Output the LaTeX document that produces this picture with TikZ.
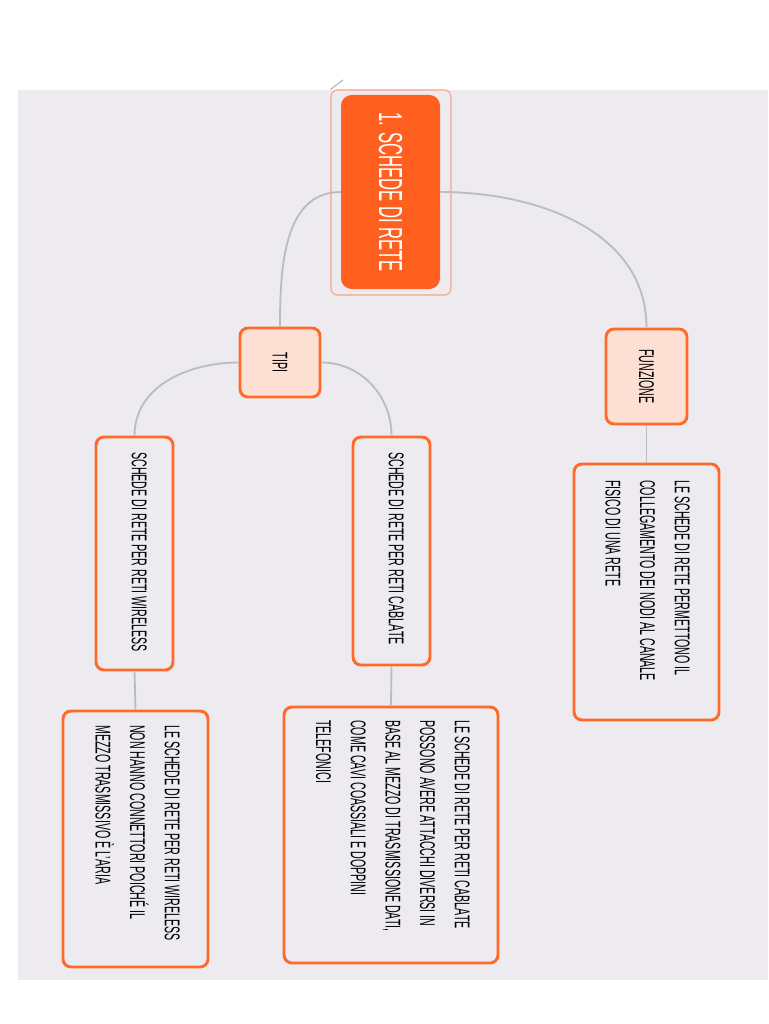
\documentclass[tikz,border=0pt]{standalone}
\usepackage{fontspec}
\setmainfont{Liberation Sans}[FakeStretch=0.5]
\definecolor{bg}{HTML}{EDEBF0}
\definecolor{org}{HTML}{FF6A2B}
\definecolor{rootc}{HTML}{FF5F1F}
\definecolor{peach}{HTML}{FDE0D3}
\definecolor{frm}{HTML}{F4A385}
\definecolor{ln}{HTML}{BDBDBD}
\begin{document}
\begin{tikzpicture}[x=0.75pt,y=-0.75pt,
 box/.style={draw=org,line width=2.2pt,rounded corners=6pt,inner sep=0pt},
 lbl/.style={rotate=-90,font=\fontsize{16}{26}\selectfont,align=left,inner sep=0pt,text=black},
 conn/.style={draw=ln,line width=1.4pt}]
\useasboundingbox (0,0) rectangle (768,1024);
\fill[white] (0,0) rectangle (768,1024);
\fill[bg] (18,90) rectangle (768,980);
\node[draw=frm,line width=0.8pt,rounded corners=5pt,minimum width=120*0.75pt,minimum height=205*0.75pt,inner sep=0pt] (frame) at (391,192.5) {};
\node[fill=rootc,rounded corners=8pt,minimum width=99*0.75pt,minimum height=194*0.75pt,inner sep=0pt] (root) at (390.5,192) {};
\node[rotate=-90,text=white,font=\fontsize{25}{30}\selectfont] (roott) at (root.center) {1. SCHEDE DI RETE};
\coordinate (tk) at (343,80);
\draw[conn,line width=1pt] (tk) -- (frame.north west);
\node[box,fill=peach,minimum width=80*0.75pt,minimum height=69*0.75pt] (tipi) at (280,362.5) {};
\node[lbl] at (tipi.center) {TIPI};
\node[box,fill=peach,minimum width=81*0.75pt,minimum height=95*0.75pt] (funz) at (646.5,376.5) {};
\node[lbl] at (funz.center) {FUNZIONE};
\node[box,fill=bg,minimum width=77*0.75pt,minimum height=233*0.75pt] (wl) at (134.5,553.5) {};
\node[lbl,anchor=north west] at (147,452) {SCHEDE DI RETE PER RETI WIRELESS};
\node[box,fill=bg,minimum width=77*0.75pt,minimum height=228*0.75pt] (cab) at (391.5,551) {};
\node[lbl,anchor=north west] at (404,452) {SCHEDE DI RETE PER RETI CABLATE};
\node[box,fill=bg,minimum width=145*0.75pt,minimum height=256*0.75pt] (ft) at (646.5,592) {};
\node[lbl,anchor=north west] at (690,480) {LE SCHEDE DI RETE PERMETTONO IL\\COLLEGAMENTO DEI NODI AL CANALE\\FISICO DI UNA RETE};
\node[box,fill=bg,minimum width=214*0.75pt,minimum height=256*0.75pt] (ct) at (391,835) {};
\node[lbl,anchor=north west] at (470,720) {LE SCHEDE DI RETE PER RETI CABLATE\\POSSONO AVERE ATTACCHI DIVERSI IN\\BASE AL MEZZO DI TRASMISSIONE DATI,\\COME CAVI COASSIALI E DOPPINI\\TELEFONICI};
\node[box,fill=bg,minimum width=145*0.75pt,minimum height=256*0.75pt] (wt) at (135.5,839) {};
\node[lbl,anchor=north west] at (180,725) {LE SCHEDE DI RETE PER RETI WIRELESS\\NON HANNO CONNETTORI POICHÉ IL\\MEZZO TRASMISSIVO È L'ARIA};
\draw[conn] (root.west) to[out=180,in=90] (tipi.north);
\draw[conn] (root.east) to[out=0,in=90] (funz.north);
\draw[conn] (tipi.west) to[out=180,in=90] (wl.north);
\draw[conn] (tipi.east) to[out=0,in=90] (cab.north);
\draw[conn] (funz.south) -- (ft.north);
\draw[conn] (wl.south) -- (wt.north);
\draw[conn] (cab.south) -- (ct.north);
\end{tikzpicture}
\end{document}
